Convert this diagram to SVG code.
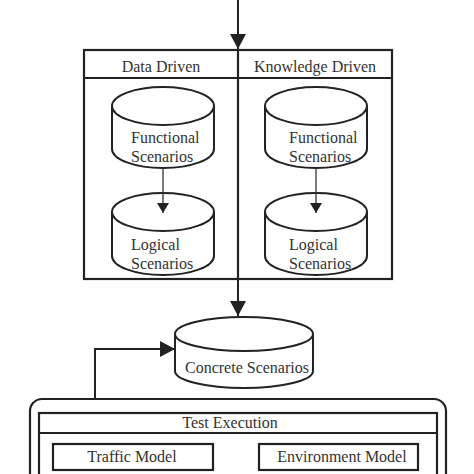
<svg xmlns="http://www.w3.org/2000/svg" width="474" height="474" viewBox="0 0 474 474">
<defs>
<marker id="ah" markerWidth="10" markerHeight="12" refX="10" refY="6" orient="auto" markerUnits="userSpaceOnUse"><path d="M0,0 L10,6 L0,12 Z" fill="#222"/></marker>
<marker id="ahb" markerWidth="16" markerHeight="16" refX="15" refY="8" orient="auto" markerUnits="userSpaceOnUse"><path d="M0,0 L15,8 L0,16 Z" fill="#222"/></marker>
</defs>
<style>
.box{fill:none;stroke:#222;stroke-width:2.2}
.cyl{fill:#fff;stroke:#222;stroke-width:2}
.ln{fill:none;stroke:#222;stroke-width:2}
.thin{fill:none;stroke:#333;stroke-width:1.3}
text{font-family:"Liberation Serif","DejaVu Serif",serif;font-size:16px;fill:#333}
.c{text-anchor:middle}
</style>
<rect width="474" height="474" fill="#fff"/>
<g id="approach-box">
<rect class="box" x="84" y="50" width="308" height="229"/>
<line class="box" x1="84" y1="78" x2="392" y2="78"/>
<line class="box" x1="238" y1="50" x2="238" y2="279"/>
<text class="c" x="161" y="72">Data Driven</text>
<text class="c" x="315" y="72">Knowledge Driven</text>
</g>
<g id="dd-functional">
<path class="cyl" d="M112,106 V149 A51,19 0 0 0 214,149 V106"/>
<ellipse class="cyl" cx="163" cy="106" rx="51" ry="19"/>
<text x="131" y="143">Functional</text>
<text x="131" y="162">Scenarios</text>
</g>
<g id="dd-logical">
<path class="cyl" d="M112,212 V256 A51,19 0 0 0 214,256 V212"/>
<ellipse class="cyl" cx="163" cy="212" rx="51" ry="19"/>
<text x="131" y="250">Logical</text>
<text x="131" y="269">Scenarios</text>
</g>
<g id="kd-functional">
<path class="cyl" d="M265,106 V149 A51,19 0 0 0 367,149 V106"/>
<ellipse class="cyl" cx="316" cy="106" rx="51" ry="19"/>
<text x="289" y="143">Functional</text>
<text x="289" y="162">Scenarios</text>
</g>
<g id="kd-logical">
<path class="cyl" d="M265,212 V256 A51,19 0 0 0 367,256 V212"/>
<ellipse class="cyl" cx="316" cy="212" rx="51" ry="19"/>
<text x="289" y="250">Logical</text>
<text x="289" y="269">Scenarios</text>
</g>
<g id="concrete">
<path class="cyl" d="M175,334 V371 A69,17 0 0 0 313,371 V334"/>
<ellipse class="cyl" cx="244" cy="334" rx="69" ry="17"/>
<text class="c" x="247" y="373">Concrete Scenarios</text>
</g>
<g id="execution">
<rect class="box" x="30" y="399" width="416" height="100" rx="12"/>
<rect class="box" x="39" y="413" width="398" height="90"/>
<line class="box" x1="39" y1="433" x2="437" y2="433"/>
<text class="c" x="230" y="428">Test Execution</text>
</g>
<g id="traffic">
<rect class="box" x="53" y="444" width="160" height="26" stroke-width="2.6"/>
<text class="c" x="132" y="462">Traffic Model</text>
</g>
<g id="environment">
<rect class="box" x="259" y="444" width="159" height="26" stroke-width="2.6"/>
<text class="c" x="342" y="462">Environment Model</text>
</g>
<g id="connectors">
<line class="ln" x1="238" y1="0" x2="238" y2="49" marker-end="url(#ahb)"/>
<line class="thin" x1="163" y1="168" x2="163" y2="213" marker-end="url(#ah)"/>
<line class="thin" x1="316" y1="168" x2="316" y2="213" marker-end="url(#ah)"/>
<line class="ln" x1="238" y1="279" x2="238" y2="316" marker-end="url(#ahb)"/>
<polyline class="ln" points="95,399 95,349 175,349" marker-end="url(#ahb)"/>
</g>
</svg>
